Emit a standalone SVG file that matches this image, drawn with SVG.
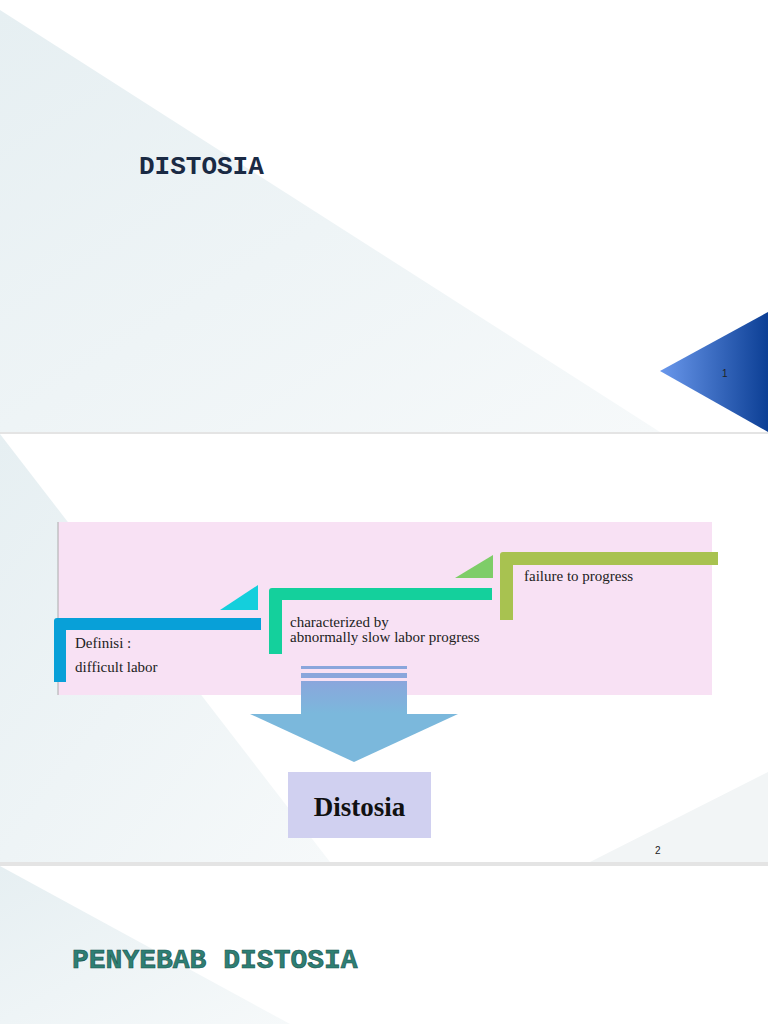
<svg xmlns="http://www.w3.org/2000/svg" width="768" height="1024" viewBox="0 0 768 1024">
<defs>
<linearGradient id="bg" x1="0" y1="0" x2="1" y2="1"><stop offset="0" stop-color="#e6eff2"/><stop offset="1" stop-color="#f6f9fa"/></linearGradient>
<linearGradient id="blue" x1="0" y1="0" x2="1" y2="0"><stop offset="0" stop-color="#6a98ec"/><stop offset="1" stop-color="#0c3f95"/></linearGradient>
<linearGradient id="arr" x1="0" y1="0" x2="0" y2="1"><stop offset="0" stop-color="#8aa6dc"/><stop offset="1" stop-color="#7bb8dc"/></linearGradient>
</defs>
<style>
.t{font-family:"Liberation Serif",serif;fill:#222;font-size:15px}
.title{font-family:"Liberation Mono",monospace;font-weight:bold;}
</style>
<rect width="768" height="1024" fill="#e4e4e4"/>
<g id="slide1">
<rect x="0" y="0" width="768" height="432" fill="#fff"/>
<polygon points="0,10 660,432 0,432" fill="url(#bg)"/>
<polygon points="660,371 768,312 768,432" fill="url(#blue)"/>
<text x="139" y="174" class="title" font-size="26" fill="#1a2a44">DISTOSIA</text>
<text x="722" y="377" font-family="Liberation Sans,sans-serif" font-size="10" fill="#222">1</text>
</g>
<g id="slide2">
<rect x="0" y="434" width="768" height="428" fill="#fff"/>
<polygon points="0,434 330,862 0,862" fill="url(#bg)"/>
<polygon points="590,862 768,772 768,862" fill="#f2f5f6"/>
<rect x="58" y="522" width="654" height="173" fill="#f8e1f4"/>
<line x1="58" y1="522" x2="58" y2="695" stroke="#aaa" stroke-width="1"/>
<g id="n1">
<path d="M54 682 V621 Q54 618 57 618 H261 V630 H66 V682 Z" fill="#08a0d8"/>
<polygon points="220,610 258,585 258,610" fill="#14cfdc"/>
<text class="t" x="75" y="648">Definisi :</text>
<text class="t" x="75" y="672">difficult labor</text>
</g>
<g id="n2">
<path d="M269 654 V591 Q269 588 272 588 H492 V600 H282 V654 Z" fill="#14d09c"/>
<polygon points="455,578 493,555 493,578" fill="#7ecd68"/>
<text class="t" x="290" y="627">characterized by</text>
<text class="t" x="290" y="642">abnormally slow labor progress</text>
</g>
<g id="n3">
<path d="M500 620 V555 Q500 552 503 552 H718 V565 H513 V620 Z" fill="#a8c250"/>
<text class="t" x="524" y="581">failure to progress</text>
</g>
<g id="connectors">
<rect x="301" y="666" width="106" height="3" fill="#8aa6dc"/>
<rect x="301" y="673" width="106" height="5" fill="#8aa6dc"/>
<rect x="301" y="681" width="106" height="33" fill="url(#arr)"/>
<polygon points="250,714 458,714 354,762" fill="#7bb8dc"/>
</g>
<g id="n4">
<rect x="288" y="772" width="143" height="66" fill="#d0d0f0"/>
<text x="359.5" y="816" text-anchor="middle" font-family="Liberation Serif,serif" font-weight="bold" font-size="27" fill="#111">Distosia</text>
</g>
<text x="655" y="854" font-family="Liberation Sans,sans-serif" font-size="10" fill="#222">2</text>
</g>
<g id="slide3">
<rect x="0" y="866" width="768" height="158" fill="#fff"/>
<polygon points="0,866 290,1024 0,1024" fill="url(#bg)"/>
<text x="72" y="968" class="title" font-size="28" fill="#2e7f74" stroke="#1a4f4a" stroke-width="0.6">PENYEBAB DISTOSIA</text>
</g>
</svg>
